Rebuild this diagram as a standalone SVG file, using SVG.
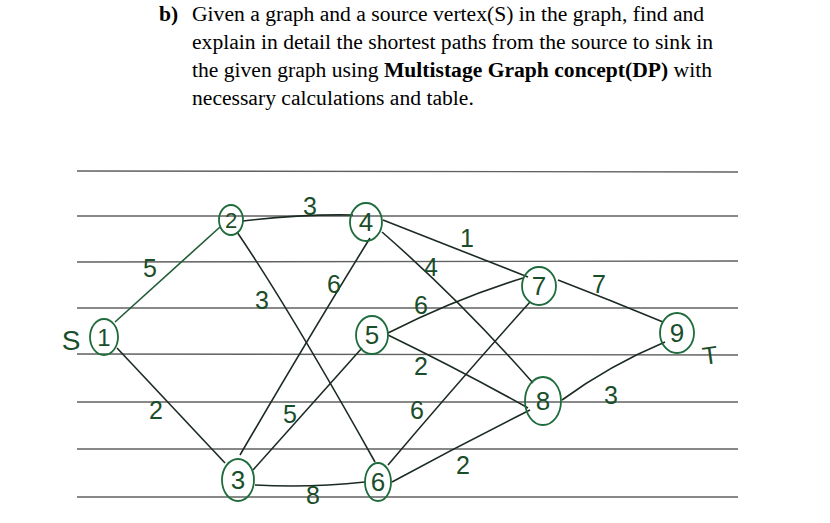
<svg xmlns="http://www.w3.org/2000/svg" width="830" height="523" viewBox="0 0 830 523">
<style>
.q{font-family:"Liberation Serif","Times New Roman",serif;font-size:21.6px;fill:#000}
.b{font-weight:bold}
.rule{stroke:#606060;stroke-width:1.4;fill:none}
.node ellipse{fill:none;stroke:#1e6b3c;stroke-width:1.8}
.node text{font-family:"Liberation Sans",sans-serif;font-size:26px;fill:#1a4d2a;text-anchor:middle;dominant-baseline:central}
.e{stroke:#1c2b22;stroke-width:1.6;fill:none}
.g{stroke:#1f5c35}
.lbl{font-family:"Liberation Sans",sans-serif;font-size:25px;fill:#1a4d2a;text-anchor:middle;dominant-baseline:central}
</style>
<rect width="830" height="523" fill="#fff"/>
<g id="question">
<text class="q" x="159" y="21"><tspan class="b">b)</tspan><tspan x="192">Given a graph and a source vertex(S) in the graph, find and</tspan></text>
<text class="q" x="192" y="49">explain in detail the shortest paths from the source to sink in</text>
<text class="q" x="192" y="77">the given graph using <tspan class="b">Multistage Graph concept(DP)</tspan> with</text>
<text class="q" x="192" y="105">necessary calculations and table.</text>
</g>
<g id="rules">
<line class="rule" x1="77" y1="171" x2="738" y2="172"/>
<line class="rule" x1="77" y1="216" x2="738" y2="216"/>
<line class="rule" x1="77" y1="262" x2="738" y2="261"/>
<line class="rule" x1="77" y1="308" x2="738" y2="308"/>
<line class="rule" x1="77" y1="354" x2="738" y2="355"/>
<line class="rule" x1="77" y1="402" x2="738" y2="402"/>
<line class="rule" x1="77" y1="449" x2="738" y2="449"/>
<line class="rule" x1="77" y1="497" x2="738" y2="497"/>
</g>
<g id="connectors">
<path class="e g" d="M115 322 L220 227"/>
<path class="e" d="M117 348 L225 463"/>
<path class="e" d="M243 221 Q300 214 353 215"/>
<path class="e" d="M237 232 Q290 310 375 462"/>
<path class="e" d="M240 455 Q310 335 370 238"/>
<path class="e" d="M253 470 L362 348"/>
<path class="e" d="M255 485 Q310 488 365 482"/>
<path class="e" d="M383 220 Q460 250 528 277"/>
<path class="e" d="M382 232 Q460 300 533 383"/>
<path class="e" d="M388 333 Q455 299 523 278"/>
<path class="e" d="M388 335 Q460 370 528 408"/>
<path class="e" d="M388 465 Q460 380 530 302"/>
<path class="e" d="M392 482 Q460 445 530 410"/>
<path class="e" d="M558 280 Q610 300 663 322"/>
<path class="e" d="M562 400 Q610 365 665 342"/>
</g>
<g id="labels">
<text class="lbl" x="150" y="268">5</text>
<text class="lbl" x="156" y="410">2</text>
<text class="lbl" x="310" y="206">3</text>
<text class="lbl" x="262" y="300">3</text>
<text class="lbl" x="334" y="284">6</text>
<text class="lbl" x="290" y="414">5</text>
<text class="lbl" x="313" y="495">8</text>
<text class="lbl" x="467" y="238">1</text>
<text class="lbl" x="431" y="267">4</text>
<text class="lbl" x="421" y="305">6</text>
<text class="lbl" x="421" y="366">2</text>
<text class="lbl" x="417" y="410">6</text>
<text class="lbl" x="463" y="465">2</text>
<text class="lbl" x="599" y="284">7</text>
<text class="lbl" x="611" y="395">3</text>
<text class="lbl" x="71" y="340" style="font-size:28px">S</text>
<text class="lbl" x="710" y="355" transform="rotate(-8 710 355)">T</text>
</g>
<g id="n1" class="node"><ellipse cx="104" cy="337" rx="14" ry="18"/><text x="104" y="337" style="font-size:24px">1</text></g>
<g id="n2" class="node"><ellipse cx="231" cy="220" rx="12" ry="15"/><text x="231" y="220" style="font-size:22px">2</text></g>
<g id="n3" class="node"><ellipse cx="238" cy="480" rx="16" ry="21"/><text x="238" y="480">3</text></g>
<g id="n4" class="node"><ellipse cx="366" cy="222" rx="16" ry="19"/><text x="366" y="222">4</text></g>
<g id="n5" class="node"><ellipse cx="372" cy="335" rx="16" ry="19"/><text x="372" y="335">5</text></g>
<g id="n6" class="node"><ellipse cx="378" cy="482" rx="13" ry="19"/><text x="378" y="482">6</text></g>
<g id="n7" class="node"><ellipse cx="539" cy="286" rx="17" ry="19"/><text x="539" y="286">7</text></g>
<g id="n8" class="node"><ellipse cx="543" cy="401" rx="18" ry="24"/><text x="543" y="401">8</text></g>
<g id="n9" class="node"><ellipse cx="677" cy="333" rx="17" ry="20"/><text x="677" y="333">9</text></g>
</svg>
